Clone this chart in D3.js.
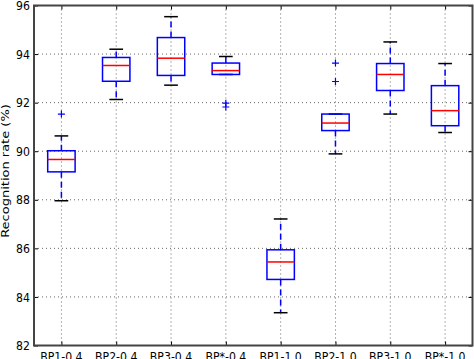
<!DOCTYPE html>
<html><head><meta charset="utf-8">
<script src="https://cdn.jsdelivr.net/npm/d3@7"></script>
<style>body{margin:0;background:#fff}svg{display:block}text{font-family:"DejaVu Sans",sans-serif}</style>
</head><body><svg id="c" width="474" height="359"></svg>
<script>
const categories = ["BP1-0.4","BP2-0.4","BP3-0.4","BP*-0.4","BP1-1.0","BP2-1.0","BP3-1.0","BP*-1.0"];
const whiskerLow = [87.96, 92.13, 92.72, 93.16, 83.35, 89.89, 91.53, 90.77];
const q1 =         [89.15, 92.88, 93.12, 93.16, 84.72, 90.85, 92.50, 91.05];
const median =     [89.66, 93.53, 93.83, 93.32, 85.44, 91.16, 93.16, 91.67];
const q3 =         [90.02, 93.86, 94.68, 93.63, 85.94, 91.53, 93.61, 92.70];
const whiskerHigh =[90.63, 94.20, 95.54, 93.90, 87.21, 91.53, 94.50, 93.61];
const outliers =   [[91.53], [], [], [91.98, 91.82], [], [93.63, 92.87], [], []];
const yTicks = [82, 84, 86, 88, 90, 92, 94, 96];
const yLabel = "Recognition rate (%)";

const svg = d3.select("#c");
const L = 34, R = 472.5, T = 5.5, B = 345.5;
const SX = 0.84; // horizontal squeeze of text seen in the reference
const x = d3.scaleLinear().domain([0.5, categories.length + 0.5]).range([L, R]);
const y = d3.scaleLinear().domain([82, 96]).range([B, T]);
const pos = categories.map((c, i) => i + 1);

// grid
const g = svg.append("g");
g.selectAll(".gy").data(yTicks.slice(1, -1)).join("line")
  .attr("x1", L).attr("x2", R).attr("y1", d => y(d)).attr("y2", d => y(d))
  .attr("stroke", "#666").attr("stroke-width", 1).attr("stroke-dasharray", "1,3");
g.selectAll(".gx").data(pos).join("line")
  .attr("x1", d => x(d)).attr("x2", d => x(d)).attr("y1", T).attr("y2", B)
  .attr("stroke", "#666").attr("stroke-width", 1).attr("stroke-dasharray", "1,3");

// axes (ticks inside, labels squeezed horizontally)
const ya = svg.append("g").attr("transform", `translate(${L},0)`)
  .call(d3.axisLeft(y).tickValues(yTicks).tickSize(-4).tickFormat(""));
const yr = svg.append("g").attr("transform", `translate(${R},0)`)
  .call(d3.axisRight(y).tickValues(yTicks).tickSize(-4).tickFormat(""));
const xa = svg.append("g").attr("transform", `translate(0,${B})`)
  .call(d3.axisBottom(x).tickValues(pos).tickSize(-4).tickFormat(""));
const xt = svg.append("g").attr("transform", `translate(0,${T})`)
  .call(d3.axisTop(x).tickValues(pos).tickSize(-4).tickFormat(""));
[ya, yr, xa, xt].forEach(a => { a.select(".domain").remove(); a.selectAll(".tick line").attr("stroke", "#000"); });

svg.append("g").selectAll("text").data(yTicks).join("text")
  .attr("transform", d => `translate(${L - 4},${y(d) + 4.6}) scale(${SX},1)`)
  .attr("text-anchor", "end").attr("font-size", 13).attr("fill", "#000")
  .text(d3.format("d"));
svg.append("g").selectAll("text").data(pos).join("text")
  .attr("transform", d => `translate(${x(d)},${B + 15}) scale(${SX},1)`)
  .attr("text-anchor", "middle").attr("font-size", 13).attr("fill", "#000")
  .text((d, i) => categories[i]);

// frame
svg.append("rect").attr("x", L).attr("y", T).attr("width", R - L).attr("height", B - T)
  .attr("fill", "none").attr("stroke", "#444").attr("stroke-width", 2);

// boxes
const bw = (x(1.25) - x(1));
const cw = (x(1.125) - x(1));
const bx = svg.append("g");
pos.forEach((p, i) => {
  const cx = x(p);
  bx.append("line").attr("x1", cx).attr("x2", cx).attr("y1", y(q3[i])).attr("y2", y(whiskerHigh[i]))
    .attr("stroke", "#0000ff").attr("stroke-width", 1.5).attr("stroke-dasharray", "6,4");
  bx.append("line").attr("x1", cx).attr("x2", cx).attr("y1", y(q1[i])).attr("y2", y(whiskerLow[i]))
    .attr("stroke", "#0000ff").attr("stroke-width", 1.5).attr("stroke-dasharray", "6,4");
  bx.append("line").attr("x1", cx - cw).attr("x2", cx + cw).attr("y1", y(whiskerHigh[i])).attr("y2", y(whiskerHigh[i]))
    .attr("stroke", "#000").attr("stroke-width", 1.5);
  bx.append("line").attr("x1", cx - cw).attr("x2", cx + cw).attr("y1", y(whiskerLow[i])).attr("y2", y(whiskerLow[i]))
    .attr("stroke", "#000").attr("stroke-width", 1.5);
  bx.append("rect").attr("x", cx - bw).attr("width", 2 * bw)
    .attr("y", y(q3[i])).attr("height", Math.max(0, y(q1[i]) - y(q3[i])))
    .attr("fill", "none").attr("stroke", "#0000ff").attr("stroke-width", 1.5);
  bx.append("line").attr("x1", cx - bw).attr("x2", cx + bw).attr("y1", y(median[i])).attr("y2", y(median[i]))
    .attr("stroke", "#ff0000").attr("stroke-width", 1.5);
  outliers[i].forEach(o => {
    bx.append("path").attr("d", `M${cx - 3.5},${y(o)}h7M${cx},${y(o) - 3.5}v7`)
      .attr("stroke", "#0000ff").attr("stroke-width", 1.2);
  });
});

// y label
svg.append("text").attr("transform", `translate(9,171) scale(${SX},1) rotate(-90)`)
  .attr("text-anchor", "middle").attr("font-size", 13).attr("fill", "#000").text(yLabel);
</script></body></html>
